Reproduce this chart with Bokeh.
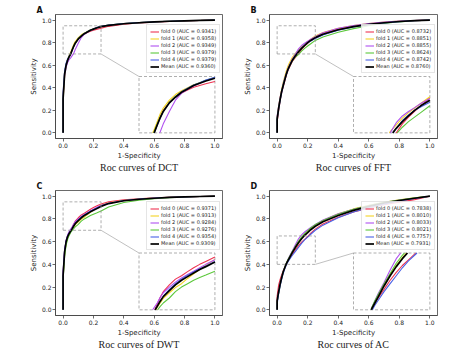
import math
from bokeh.plotting import figure
from bokeh.models import Range1d, Legend, LegendItem, FixedTicker, NumeralTickFormatter, Title
from bokeh.layouts import column, row
from bokeh.embed import file_html
from bokeh.resources import INLINE

# ---------------- data ----------------
FPR = [0, 0, 0.01, 0.02, 0.03, 0.04, 0.05, 0.06, 0.07, 0.08, 0.10, 0.12, 0.14, 0.16,
       0.18, 0.20, 0.22, 0.25, 0.30, 0.40, 0.50, 0.60, 0.70, 0.80, 0.90, 1.0]
SERIES = ["fold 0", "fold 1", "fold 2", "fold 3", "fold 4", "Mean"]
TICKS = [0.0, 0.2, 0.4, 0.6, 0.8, 1.0]

DCT_F0 = [0, 0.33, 0.53, 0.61, 0.65, 0.68, 0.705, 0.74, 0.77, 0.80, 0.835, 0.86, 0.877, 0.89, 0.902, 0.91, 0.918, 0.928, 0.945, 0.963, 0.974, 0.982, 0.988, 0.993, 0.997, 1.0]
DCT_F1 = [0, 0.28, 0.50, 0.60, 0.65, 0.685, 0.715, 0.75, 0.785, 0.81, 0.845, 0.87, 0.887, 0.90, 0.913, 0.922, 0.932, 0.944, 0.955, 0.969, 0.978, 0.985, 0.99, 0.994, 0.997, 1.0]
DCT_F2 = [0, 0.30, 0.50, 0.58, 0.625, 0.65, 0.665, 0.685, 0.705, 0.74, 0.795, 0.845, 0.875, 0.893, 0.908, 0.92, 0.932, 0.944, 0.955, 0.969, 0.978, 0.985, 0.99, 0.994, 0.997, 1.0]
DCT_F3 = [0, 0.32, 0.53, 0.61, 0.65, 0.68, 0.705, 0.738, 0.77, 0.797, 0.835, 0.862, 0.882, 0.897, 0.912, 0.922, 0.933, 0.945, 0.956, 0.97, 0.978, 0.985, 0.99, 0.994, 0.997, 1.0]
DCT_F4 = [0, 0.36, 0.55, 0.62, 0.655, 0.68, 0.70, 0.733, 0.766, 0.795, 0.833, 0.86, 0.882, 0.898, 0.912, 0.922, 0.934, 0.946, 0.956, 0.97, 0.978, 0.985, 0.99, 0.994, 0.997, 1.0]
DCT_MEAN = [0, 0.30, 0.52, 0.60, 0.645, 0.675, 0.70, 0.735, 0.768, 0.795, 0.833, 0.858, 0.880, 0.895, 0.910, 0.920, 0.930, 0.942, 0.953, 0.968, 0.977, 0.984, 0.990, 0.994, 0.997, 1.0]

FFT_F0 = [0, 0.10, 0.20, 0.29, 0.36, 0.41, 0.46, 0.51, 0.55, 0.58, 0.635, 0.67, 0.70, 0.74, 0.77, 0.795, 0.82, 0.855, 0.885, 0.92, 0.945, 0.963, 0.977, 0.988, 0.996, 1.0]
FFT_F1 = [0, 0.14, 0.24, 0.32, 0.39, 0.45, 0.50, 0.55, 0.59, 0.62, 0.67, 0.705, 0.735, 0.765, 0.79, 0.81, 0.83, 0.86, 0.89, 0.928, 0.953, 0.97, 0.982, 0.991, 0.997, 1.0]
FFT_F2 = [0, 0.15, 0.24, 0.32, 0.38, 0.44, 0.49, 0.53, 0.57, 0.60, 0.655, 0.70, 0.745, 0.775, 0.795, 0.812, 0.83, 0.852, 0.888, 0.928, 0.952, 0.97, 0.982, 0.991, 0.997, 1.0]
FFT_F3 = [0, 0.13, 0.22, 0.30, 0.37, 0.43, 0.48, 0.52, 0.56, 0.59, 0.64, 0.675, 0.695, 0.725, 0.75, 0.77, 0.79, 0.82, 0.85, 0.893, 0.925, 0.95, 0.97, 0.985, 0.995, 1.0]
FFT_F4 = [0, 0.12, 0.21, 0.29, 0.36, 0.42, 0.47, 0.515, 0.555, 0.59, 0.645, 0.685, 0.72, 0.755, 0.78, 0.80, 0.815, 0.836, 0.868, 0.91, 0.94, 0.96, 0.975, 0.987, 0.996, 1.0]
FFT_MEAN = [0, 0.12, 0.22, 0.30, 0.37, 0.42, 0.47, 0.52, 0.56, 0.59, 0.645, 0.685, 0.72, 0.75, 0.775, 0.80, 0.82, 0.845, 0.875, 0.915, 0.942, 0.962, 0.977, 0.988, 0.996, 1.0]

DWT_F0 = [0, 0.33, 0.52, 0.61, 0.65, 0.675, 0.695, 0.725, 0.755, 0.78, 0.81, 0.835, 0.85, 0.868, 0.885, 0.90, 0.913, 0.932, 0.95, 0.968, 0.978, 0.985, 0.99, 0.994, 0.997, 1.0]
DWT_F1 = [0, 0.28, 0.49, 0.59, 0.635, 0.665, 0.688, 0.71, 0.73, 0.75, 0.775, 0.798, 0.815, 0.838, 0.858, 0.877, 0.895, 0.922, 0.942, 0.962, 0.975, 0.984, 0.99, 0.994, 0.997, 1.0]
DWT_F2 = [0, 0.30, 0.52, 0.61, 0.66, 0.69, 0.71, 0.73, 0.755, 0.775, 0.80, 0.822, 0.84, 0.855, 0.87, 0.885, 0.90, 0.92, 0.94, 0.96, 0.972, 0.981, 0.988, 0.993, 0.997, 1.0]
DWT_F3 = [0, 0.27, 0.47, 0.57, 0.62, 0.655, 0.68, 0.698, 0.715, 0.73, 0.752, 0.78, 0.80, 0.815, 0.83, 0.842, 0.853, 0.87, 0.905, 0.945, 0.965, 0.978, 0.987, 0.993, 0.997, 1.0]
DWT_F4 = [0, 0.34, 0.53, 0.61, 0.65, 0.675, 0.695, 0.715, 0.74, 0.76, 0.79, 0.815, 0.835, 0.852, 0.867, 0.88, 0.893, 0.913, 0.935, 0.962, 0.975, 0.984, 0.99, 0.994, 0.997, 1.0]
DWT_MEAN = [0, 0.30, 0.51, 0.60, 0.645, 0.672, 0.693, 0.715, 0.738, 0.758, 0.784, 0.81, 0.83, 0.846, 0.862, 0.877, 0.89, 0.91, 0.935, 0.96, 0.973, 0.982, 0.989, 0.994, 0.997, 1.0]

AC_F0 = [0, 0.12, 0.22, 0.27, 0.31, 0.345, 0.37, 0.405, 0.43, 0.45, 0.49, 0.53, 0.565, 0.595, 0.62, 0.645, 0.675, 0.71, 0.755, 0.815, 0.86, 0.895, 0.925, 0.948, 0.97, 1.0]
AC_F1 = [0, 0.06, 0.15, 0.22, 0.28, 0.33, 0.37, 0.405, 0.435, 0.46, 0.51, 0.555, 0.595, 0.63, 0.66, 0.69, 0.715, 0.745, 0.785, 0.845, 0.888, 0.92, 0.947, 0.968, 0.985, 1.0]
AC_F2 = [0, 0.08, 0.16, 0.23, 0.29, 0.34, 0.375, 0.41, 0.44, 0.47, 0.52, 0.575, 0.625, 0.66, 0.685, 0.705, 0.725, 0.75, 0.79, 0.845, 0.885, 0.918, 0.945, 0.966, 0.984, 1.0]
AC_F3 = [0, 0.07, 0.15, 0.22, 0.285, 0.335, 0.375, 0.41, 0.44, 0.465, 0.515, 0.56, 0.605, 0.64, 0.67, 0.695, 0.72, 0.75, 0.785, 0.84, 0.885, 0.918, 0.946, 0.967, 0.985, 1.0]
AC_F4 = [0, 0.05, 0.14, 0.21, 0.27, 0.32, 0.36, 0.395, 0.42, 0.44, 0.48, 0.515, 0.55, 0.585, 0.615, 0.64, 0.665, 0.70, 0.745, 0.81, 0.86, 0.898, 0.93, 0.958, 0.98, 1.0]
AC_MEAN = [0, 0.08, 0.16, 0.23, 0.285, 0.335, 0.37, 0.405, 0.43, 0.455, 0.505, 0.55, 0.59, 0.625, 0.655, 0.68, 0.705, 0.735, 0.775, 0.83, 0.875, 0.91, 0.94, 0.962, 0.982, 1.0]

DCT_AUC = [0.9341, 0.9358, 0.9349, 0.9379, 0.9379, 0.9360]
FFT_AUC = [0.8732, 0.8851, 0.8855, 0.8624, 0.8742, 0.8760]
DWT_AUC = [0.9371, 0.9313, 0.9284, 0.9276, 0.9354, 0.9309]
AC_AUC = [0.7838, 0.8010, 0.8033, 0.8021, 0.7757, 0.7931]

ZOOM_X = [0.0, 0.25]
ZOOM_Y_DCT = [0.70, 0.95]
ZOOM_Y_FFT = [0.70, 0.95]
ZOOM_Y_DWT = [0.70, 0.95]
ZOOM_Y_AC = [0.40, 0.65]
INSET_X = [0.5, 1.0]
INSET_Y = [0.0, 0.5]

COLORS = ["#ee3352", "#f4d425", "#b050f0", "#5cc83c", "#4a62e6", "#000000"]
WIDTHS = [1.1, 1.1, 1.1, 1.1, 1.1, 1.7]

FONT = "DejaVu Sans"
SERIF = "Liberation Serif"
FRAME = "#444444"


def clip_poly(xs, ys, x0, x1, y0, y1):
    ox, oy = [], []
    last = None
    for i in range(len(xs) - 1):
        ax, ay, bx, by = xs[i], ys[i], xs[i + 1], ys[i + 1]
        dx, dy = bx - ax, by - ay
        t0, t1 = 0.0, 1.0
        ok = True
        for pp, qq in ((-dx, ax - x0), (dx, x1 - ax), (-dy, ay - y0), (dy, y1 - ay)):
            if pp == 0:
                if qq < 0:
                    ok = False
                    break
            else:
                r = qq / pp
                if pp < 0:
                    if r > t1:
                        ok = False
                        break
                    t0 = max(t0, r)
                else:
                    if r < t0:
                        ok = False
                        break
                    t1 = min(t1, r)
        if not ok:
            continue
        sx, sy = ax + t0 * dx, ay + t0 * dy
        ex, ey = ax + t1 * dx, ay + t1 * dy
        if last is None or abs(last[0] - sx) > 1e-12 or abs(last[1] - sy) > 1e-12:
            if ox:
                ox.append(math.nan)
                oy.append(math.nan)
            ox.append(sx)
            oy.append(sy)
        ox.append(ex)
        oy.append(ey)
        last = (ex, ey)
    return ox, oy


def panel(letter, caption, tprs, aucs, zoom_y, left, right, top, bottom):
    W, H = 237, 178
    p = figure(width=W, height=H, x_range=Range1d(-0.05, 1.05), y_range=Range1d(-0.05, 1.05),
               output_backend="svg", toolbar_location=None,
               min_border_left=left, min_border_right=right,
               min_border_top=top, min_border_bottom=bottom)
    fw = W - left - right
    p.background_fill_color = "white"
    p.border_fill_color = "white"
    p.outline_line_color = FRAME
    p.outline_line_width = 0.8
    p.grid.visible = False
    for ax in (p.xaxis[0], p.yaxis[0]):
        ax.ticker = FixedTicker(ticks=TICKS)
        ax.formatter = NumeralTickFormatter(format="0.0")
        ax.minor_tick_line_color = None
        ax.major_tick_in = 0
        ax.major_tick_out = 3
        ax.major_tick_line_color = FRAME
        ax.major_tick_line_width = 0.8
        ax.axis_line_color = FRAME
        ax.axis_line_width = 0.8
        ax.major_label_text_font = FONT
        ax.major_label_text_font_size = "6px"
        ax.major_label_text_color = "#222222"
        ax.major_label_standoff = 1
        ax.axis_label_text_font = FONT
        ax.axis_label_text_font_size = "7px"
        ax.axis_label_text_font_style = "normal"
        ax.axis_label_text_color = "#222222"
        ax.axis_label_standoff = 1
    p.xaxis.axis_label = "1-Specificity"
    p.yaxis.axis_label = "Sensitivity"

    # panel letter as the (left aligned) title
    p.title.text = letter
    p.title.align = "left"
    p.title.offset = -19
    p.title.standoff = 0
    p.title.text_font = FONT
    p.title.text_font_size = "8px"
    p.title.text_font_style = "bold"
    p.title.text_color = "#111111"

    # caption under the x axis
    p.add_layout(Title(text=caption, align="center", text_font=SERIF, text_font_size="10px",
                       text_font_style="normal", text_color="#222222", standoff=-5), "below")

    items = []
    for i, t in enumerate(tprs):
        r = p.line(FPR, t, line_color=COLORS[i], line_width=WIDTHS[i])
        items.append(LegendItem(label="%s (AUC = %.4f)" % (SERIES[i], aucs[i]), renderers=[r]))

    zx0, zx1 = ZOOM_X
    zy0, zy1 = zoom_y
    ix0, ix1 = INSET_X
    iy0, iy1 = INSET_Y
    p.line([zx0, zx1, zx1, zx0, zx0], [zy0, zy0, zy1, zy1, zy0],
           line_color="#9a9a9a", line_width=0.8, line_dash="3 2")
    p.line([zx1, ix0], [zy0, iy1], line_color="#b0b0b0", line_width=0.8)
    p.quad(left=[ix0], right=[ix1], bottom=[iy0], top=[iy1], fill_color="white",
           line_color="#9a9a9a", line_width=0.8, line_dash="3 2")
    for i, t in enumerate(tprs):
        cx, cy = clip_poly(FPR, t, zx0, zx1, zy0, zy1)
        mx = [ix0 + (v - zx0) / (zx1 - zx0) * (ix1 - ix0) for v in cx]
        my = [iy0 + (v - zy0) / (zy1 - zy0) * (iy1 - iy0) for v in cy]
        p.line(mx, my, line_color=COLORS[i], line_width=WIDTHS[i])

    leg = Legend(items=items, location=(fw - 76, 65))
    leg.label_text_font = FONT
    leg.label_text_font_size = "5px"
    leg.label_text_color = "#222222"
    leg.label_height = 5
    leg.label_standoff = 2
    leg.glyph_width = 9
    leg.glyph_height = 5
    leg.spacing = 1
    leg.padding = 3
    leg.margin = 0
    leg.border_line_color = "#cccccc"
    leg.border_line_width = 0.8
    leg.background_fill_alpha = 0.85
    p.add_layout(leg)
    return p


pA = panel("A", "Roc curves of DCT", [DCT_F0, DCT_F1, DCT_F2, DCT_F3, DCT_F4, DCT_MEAN], DCT_AUC, ZOOM_Y_DCT, 55, 15, 14, 40)
pB = panel("B", "Roc curves of FFT", [FFT_F0, FFT_F1, FFT_F2, FFT_F3, FFT_F4, FFT_MEAN], FFT_AUC, ZOOM_Y_FFT, 32, 37, 14, 40)
pC = panel("C", "Roc curves of DWT", [DWT_F0, DWT_F1, DWT_F2, DWT_F3, DWT_F4, DWT_MEAN], DWT_AUC, ZOOM_Y_DWT, 55, 15, 12, 41)
pD = panel("D", "Roc curves of AC", [AC_F0, AC_F1, AC_F2, AC_F3, AC_F4, AC_MEAN], AC_AUC, ZOOM_Y_AC, 32, 37, 12, 41)

layout = column(row(pA, pB, spacing=0), row(pC, pD, spacing=0), spacing=0)
open("out.html", "w").write(file_html(layout, INLINE))
